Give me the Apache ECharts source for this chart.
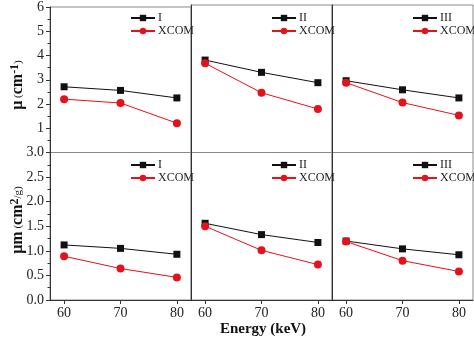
<!DOCTYPE html>
<html>
<head>
<meta charset="utf-8">
<script src="https://cdn.jsdelivr.net/npm/echarts@6/dist/echarts.min.js"></script>
<style>
  html, body { margin: 0; padding: 0; background: #fff; }
  #chart { width: 474px; height: 339px; }
</style>
</head>
<body>
<div id="chart"></div>
<script>
// Photon energies (keV)
const energies = [60, 70, 80];
const sampleNames = ['I', 'II', 'III'];

// Linear attenuation coefficient μ (cm^-1): measured vs XCOM
const muSampleI   = [2.71, 2.56, 2.25];
const muXcomI     = [2.20, 2.04, 1.21];
const muSampleII  = [3.76, 3.26, 2.84];
const muXcomII    = [3.63, 2.43, 1.77];
const muSampleIII = [2.92, 2.55, 2.22];
const muXcomIII   = [2.84, 2.03, 1.51];

// Mass attenuation coefficient μm (cm^2/g): measured vs XCOM
const mmSampleI   = [1.12, 1.05, 0.93];
const mmXcomI     = [0.89, 0.64, 0.46];
const mmSampleII  = [1.56, 1.33, 1.17];
const mmXcomII    = [1.50, 1.01, 0.72];
const mmSampleIII = [1.20, 1.04, 0.92];
const mmXcomIII   = [1.19, 0.80, 0.58];

const muTicks = [1, 2, 3, 4, 5, 6];
const mmTicks = [0.0, 0.5, 1.0, 1.5, 2.0, 2.5, 3.0];

const topSample = [muSampleI, muSampleII, muSampleIII];
const topXcom   = [muXcomI, muXcomII, muXcomIII];
const botSample = [mmSampleI, mmSampleII, mmSampleIII];
const botXcom   = [mmXcomI, mmXcomII, mmXcomIII];

const FONT = '"Liberation Serif", "Times New Roman", serif';
const AXIS_DARK = '#333';
const RED = '#e3121b';
const BLACK = '#111';

const panelLeft = [50, 191, 332];
const panelW = 141;
const topY = 5, midY = 152.5, botY = 300;

const grids = [], xAxes = [], yAxes = [], series = [], legends = [];

function pairs(vals) { return energies.map((e, i) => [e, vals[i]]); }

for (let row = 0; row < 2; row++) {
  for (let col = 0; col < 3; col++) {
    const idx = row * 3 + col;
    const isTop = row === 0;
    grids.push({
      left: panelLeft[col], width: panelW,
      top: isTop ? topY : midY,
      height: isTop ? (midY - topY) : (botY - midY),
      show: true, borderColor: '#8a8a8a', borderWidth: 1,
      backgroundColor: 'transparent'
    });
    xAxes.push({
      type: 'value', gridIndex: idx, min: 57.5, max: 82.5,
      splitLine: { show: false },
      axisLine: { show: !isTop, onZero: false, lineStyle: { color: AXIS_DARK, width: 1 } },
      axisTick: { show: !isTop, length: 4, customValues: energies, lineStyle: { color: AXIS_DARK } },
      axisLabel: {
        show: !isTop, customValues: energies, margin: 6,
        fontFamily: FONT, fontSize: 14, color: '#222'
      }
    });
    yAxes.push({
      type: 'value', gridIndex: idx,
      min: 0, max: isTop ? 6 : 3, interval: isTop ? 1 : 0.5,
      splitLine: { show: false },
      axisLine: { show: true, onZero: false, lineStyle: { color: AXIS_DARK, width: 1 } },
      axisTick: { show: col === 0, length: 4, lineStyle: { color: AXIS_DARK } },
      minorTick: { show: col === 0, splitNumber: 2, length: 2.5, lineStyle: { color: AXIS_DARK } },
      axisLabel: {
        show: col === 0, margin: 6, fontFamily: FONT, fontSize: 14, color: '#222',
        formatter: isTop
          ? (v) => (muTicks.indexOf(v) >= 0 ? String(v) : '')
          : (v) => (mmTicks.indexOf(v) >= 0 ? v.toFixed(1) : '')
      }
    });
    const sVals = isTop ? topSample[col] : botSample[col];
    const xVals = isTop ? topXcom[col] : botXcom[col];
    series.push({
      name: sampleNames[col], type: 'line', xAxisIndex: idx, yAxisIndex: idx,
      data: pairs(sVals), symbol: 'rect', symbolSize: 7,
      lineStyle: { color: BLACK, width: 1 }, itemStyle: { color: BLACK },
      animation: false
    });
    series.push({
      name: 'XCOM', type: 'line', xAxisIndex: idx, yAxisIndex: idx,
      data: pairs(xVals), symbol: 'circle', symbolSize: 8,
      lineStyle: { color: RED, width: 1 }, itemStyle: { color: RED },
      animation: false
    });
    legends.push({
      data: [sampleNames[col], 'XCOM'],
      left: panelLeft[col] + 75,
      top: isTop ? 7 : 154,
      orient: 'vertical',
      itemWidth: 24, itemHeight: 8, itemGap: 1,
      selectedMode: false,
      textStyle: { fontFamily: FONT, fontSize: 12, lineHeight: 12, color: '#222', padding: [0, 0, 0, -2] }
    });
  }
}

const option = {
  animation: false,
  backgroundColor: '#fff',
  grid: grids,
  xAxis: xAxes,
  yAxis: yAxes,
  legend: legends,
  series: series,
  graphic: [
    {
      type: 'text', x: 18, y: 85, rotation: Math.PI / 2,
      style: {
        text: '{b|μ}{s| (}{b|cm}{sup|-1}{s|)}',
        align: 'center', verticalAlign: 'middle', fill: '#111',
        rich: {
          b: { fontFamily: FONT, fontSize: 16, fontWeight: 'bold', fill: '#111' },
          s: { fontFamily: FONT, fontSize: 11, fill: '#111' },
          sup: { fontFamily: FONT, fontSize: 12, fontWeight: 'bold', fill: '#111', verticalAlign: 'top', padding: [0, 0, 6, 0] }
        }
      }
    },
    {
      type: 'text', x: 18, y: 220, rotation: Math.PI / 2,
      style: {
        text: '{b|μm}{s| (}{b|cm}{sup|2}{s|/g)}',
        align: 'center', verticalAlign: 'middle', fill: '#111',
        rich: {
          b: { fontFamily: FONT, fontSize: 16, fontWeight: 'bold', fill: '#111' },
          s: { fontFamily: FONT, fontSize: 11, fill: '#111' },
          sup: { fontFamily: FONT, fontSize: 12, fontWeight: 'bold', fill: '#111', verticalAlign: 'top', padding: [0, 0, 6, 0] }
        }
      }
    },
    {
      type: 'text', x: 263, y: 329,
      style: {
        text: 'Energy (keV)', align: 'center', verticalAlign: 'middle',
        fontFamily: FONT, fontSize: 15, fontWeight: 'bold', fill: '#111'
      }
    }
  ]
};

const chart = echarts.init(document.getElementById('chart'), null, { renderer: 'canvas' });
chart.setOption(option);
</script>
</body>
</html>
